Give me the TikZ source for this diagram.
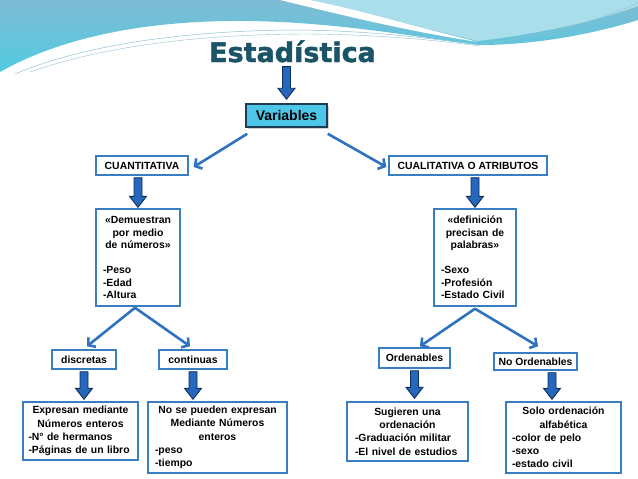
\documentclass[tikz,border=0pt]{standalone}
\usepackage{fontspec}
\setmainfont{Liberation Sans}
\newfontfamily\titlefont[FakeBold=1.6]{DejaVu Sans Bold}
\usetikzlibrary{arrows.meta,calc,shadows}
\definecolor{boxblue}{HTML}{3A7EC2}
\definecolor{linkblue}{HTML}{2E72C0}
\definecolor{arrfill}{HTML}{2467BD}
\definecolor{arrdraw}{HTML}{102E5C}
\definecolor{varfill}{HTML}{4EC6E8}
\definecolor{vardraw}{HTML}{1D3B52}
\definecolor{titlecol}{HTML}{1B5467}
\definecolor{waveA}{HTML}{7EBCD5}
\definecolor{waveAb}{HTML}{52CBE0}
\definecolor{waveB}{HTML}{A9DEEA}
\definecolor{waveline}{HTML}{8FC3D3}
\newcommand\boxtext[2]{{\centering #1\par}#2}
\begin{document}
\begin{tikzpicture}[x=1pt,y=-1pt,
  box/.style={draw=boxblue, line width=1.4pt, fill=white, inner sep=0pt,
    font=\bfseries\fontsize{10.4}{12.5}\selectfont},
  tallbox/.style={box, align=left, font=\bfseries\fontsize{10.4}{12.5}\selectfont},
  lowbox/.style={box, align=left, font=\bfseries\fontsize{10.4}{13.2}\selectfont},
  link/.style={draw=linkblue, line width=2.6pt, -{Straight Barb[length=5pt,width=12pt]}},
  blockarrow/.style 2 args={draw=arrdraw, line width=0.9pt, fill=arrfill,
    to path={let \p1=(\tikztostart), \p2=(\tikztotarget) in
      (\x1-4pt,\y1-#1) -- (\x1+4pt,\y1-#1) -- (\x1+4pt,\y2+#2+11pt)
      -- (\x1+8.5pt,\y2+#2+11pt) -- (\x1,\y2+#2) -- (\x1-8.5pt,\y2+#2+11pt)
      -- (\x1-4pt,\y2+#2+11pt) -- cycle}}
]
\useasboundingbox (0,0) rectangle (638,479);
\fill[white] (0,0) rectangle (638,479);
% background wave
\shade[top color=waveA, bottom color=waveAb]
  (0,0) -- (0,72) .. controls (60,38) and (140,22) .. (230,21)
  .. controls (330,20) and (420,38) .. (480,45)
  .. controls (540,45) and (600,32) .. (638,20) -- (638,0) -- cycle;
\fill[waveB] (310,0) .. controls (360,10) and (420,28) .. (478,41)
  .. controls (540,34) and (600,20) .. (638,6) -- (638,0) -- cycle;
\fill[white] (280,0) .. controls (330,12) and (400,30) .. (478,42)
  .. controls (420,28) and (360,10) .. (310,0) -- cycle;
\draw[waveline, line width=0.5pt] (15,74) .. controls (90,42) and (200,30) .. (300,30)
  .. controls (380,31) and (440,40) .. (480,45);
\draw[waveline, line width=0.4pt] (30,72) .. controls (110,44) and (210,34) .. (310,34)
  .. controls (390,35) and (440,41) .. (480,46);
\draw[waveline, line width=0.4pt] (480,44) .. controls (540,38) and (600,20) .. (638,3);

% title
\node[font=\titlefont\fontsize{27}{30}\selectfont, text=titlecol,
  inner sep=0pt, anchor=base] (title) at (292.5,62) {Estadística};

% nodes
\node[draw=vardraw, line width=1.5pt, fill=varfill, minimum width=81, minimum height=23,
  inner sep=0pt, font=\bfseries\fontsize{14}{16}\selectfont,
  drop shadow={opacity=0.35, shadow xshift=1.5pt, shadow yshift=-1.5pt}]
  (var) at (286.5,115.5) {Variables};
\node[box, minimum width=92, minimum height=19] (cuant) at (142,165.5) {CUANTITATIVA};
\node[box, minimum width=158, minimum height=19] (cual) at (468,165.5) {CUALITATIVA O ATRIBUTOS};
\node[tallbox, minimum width=84, minimum height=97, text width=70] (dem) at (138,257.5)
  {\boxtext{«Demuestran\\por medio\\de números»}{\mbox{}\\-Peso\\-Edad\\-Altura}};
\node[tallbox, minimum width=82, minimum height=97, text width=68] (defi) at (475,257.5)
  {\boxtext{«definición\\precisan de\\palabras»}{\mbox{}\\-Sexo\\-Profesión\\-Estado Civil}};
\node[box, minimum width=64, minimum height=19] (disc) at (84,359.5) {discretas};
\node[box, minimum width=68, minimum height=19] (cont) at (193,359.5) {continuas};
\node[box, minimum width=71, minimum height=20] (orde) at (414.5,358) {Ordenables};
\node[box, minimum width=83, minimum height=17] (nord) at (535.5,361.5) {No Ordenables};
\node[lowbox, minimum width=115, minimum height=58, text width=104] (expr) at (80.5,431)
  {\boxtext{Expresan mediante\\Números enteros}{-N° de hermanos\\-Páginas de un libro}};
\node[lowbox, minimum width=139, minimum height=71, text width=125] (nose) at (217.5,437.5)
  {\boxtext{No se pueden expresan\\Mediante Números\\enteros}{-peso\\-tiempo}};
\node[lowbox, minimum width=121, minimum height=59, text width=105] (sugi) at (407.5,431.5)
  {\boxtext{Sugieren una\\ordenación}{-Graduación militar\\-El nivel de estudios}};
\node[lowbox, minimum width=115, minimum height=71, text width=103] (solo) at (563.5,437.5)
  {\boxtext{Solo ordenación\\alfabética}{-color de pelo\\-sexo\\-estado civil}};
\coordinate (nordfoot) at ([xshift=16.5pt]nord.south);

% block arrows
\draw[blockarrow={4pt}{4pt}] (var.north |- title.south) to (var.north);
\draw[blockarrow={2pt}{1pt}] (dem.north |- cuant.south) to (dem.north);
\draw[blockarrow={2pt}{1pt}] (defi.north |- cual.south) to (defi.north);
\draw[blockarrow={2pt}{2pt}] (disc.south) to (disc.south |- expr.north);
\draw[blockarrow={2pt}{2pt}] (cont.south) to (cont.south |- nose.north);
\draw[blockarrow={2pt}{3pt}] (orde.south) to (orde.south |- sugi.north);
\draw[blockarrow={2pt}{2pt}] (nordfoot) to (nordfoot |- solo.north);

% slanted links
\draw[link] ([shift={(2,6)}]var.south west) -- ([shift={(5,1.5)}]cuant.east);
\draw[link] ([shift={(0,6)}]var.south east) -- ([shift={(-2,1.5)}]cual.west);
\draw[link] ([shift={(-3,1)}]dem.south) -- ([shift={(3,-3)}]disc.north);
\draw[link] ([shift={(-3,1)}]dem.south) -- ([shift={(-3,-3)}]cont.north);
\draw[link] ([shift={(0,2)}]defi.south) -- ([shift={(5.5,-1)}]orde.north);
\draw[link] ([shift={(0,2)}]defi.south) -- ([shift={(2.5,-6)}]nord.north);
\end{tikzpicture}
\end{document}
